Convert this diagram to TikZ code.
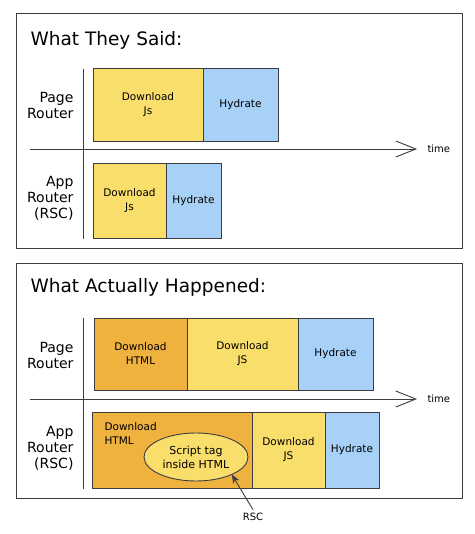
\documentclass[tikz,border=0pt]{standalone}
\usepackage{fontspec}
\setmainfont{DejaVu Sans}
\usetikzlibrary{positioning,shapes.geometric,arrows.meta}
\definecolor{myyellow}{RGB}{249,222,108}
\definecolor{myorange}{RGB}{239,178,62}
\definecolor{myblue}{RGB}{168,209,247}
\definecolor{myline}{RGB}{60,60,66}

\begin{document}
\begin{tikzpicture}[x=1pt,y=-1pt,node distance=0pt,
stepb/.style={
  draw=myline,
  line width=0.9pt,
  outer sep=0pt,
  inner sep=2pt,
  font=\fontsize{10.5}{14}\selectfont,
  align=center},
yellowb/.style={stepb,fill=myyellow},
orangeb/.style={stepb,fill=myorange},
blueb/.style={stepb,fill=myblue},
lane/.style={font=\fontsize{14}{16}\selectfont,align=right,anchor=east},
ttl/.style={font=\fontsize{18.5}{20}\selectfont,anchor=west},
axis/.style={draw=myline,line width=0.9pt},
timeax/.style={axis,-{Straight Barb[length=20pt,width=16pt]}},
small/.style={font=\fontsize{10}{12}\selectfont},
]
\useasboundingbox (0,0) rectangle (474,534);
\fill[white] (0,0) rectangle (474,534);
% What they said
\draw[axis] (16,13) rectangle (462,248);
\node[ttl] (said) at (27,40) {What They Said:};
\coordinate (v1a) at (83,69);
\coordinate (v1b) at (83,239);
\coordinate (t1a) at (30,149);
\coordinate (t1b) at (417,149);
\draw[axis] (v1a) -- (v1b);
\draw[timeax] (t1a) -- (t1b);
\node[small,right=7pt of t1b] (tm1) {time};
\node[lane] (pr1) at (77,105) {Page\\Router};
\node[lane] (ar1) at (77,198) {App\\Router\\(RSC)};
\node[yellowb,minimum width=110,minimum height=73,anchor=north west] (js1) at (93,68) {Download\\Js};
\node[blueb,minimum width=75,minimum height=73,right=of js1] (hy1) {Hydrate};
\node[yellowb,minimum width=73,minimum height=75,anchor=north west] (js2) at (93,163) {Download\\Js};
\node[blueb,minimum width=55,minimum height=75,right=of js2] (hy2) {Hydrate};
% What actually happened
\draw[axis] (16,263) rectangle (462,498);
\node[ttl] (happ) at (27,287) {What Actually Happened:};
\coordinate (v2a) at (83,318);
\coordinate (v2b) at (83,489);
\coordinate (t2a) at (30,399);
\coordinate (t2b) at (417,399);
\draw[axis] (v2a) -- (v2b);
\draw[timeax] (t2a) -- (t2b);
\node[small,right=7pt of t2b] (tm2) {time};
\node[lane] (pr2) at (77,355) {Page\\Router};
\node[lane] (ar2) at (77,448) {App\\Router\\(RSC)};
\node[orangeb,minimum width=93,minimum height=72,anchor=north west] (ht3) at (94,318) {Download\\HTML};
\node[yellowb,minimum width=111,minimum height=72,right=of ht3] (js3) {Download\\JS};
\node[blueb,minimum width=75,minimum height=72,right=of js3] (hy3) {Hydrate};
\node[orangeb,minimum width=160,minimum height=76,anchor=north west] (ht4) at (92,412) {};
\node[font=\fontsize{10.5}{14}\selectfont,align=left,anchor=north west] (ht4t) at (101,419) {Download\\HTML};
\node[yellowb,minimum width=73,minimum height=76,right=of ht4] (js4) {Download\\JS};
\node[blueb,minimum width=54,minimum height=76,right=of js4] (hy4) {Hydrate};
\node[yellowb,ellipse,minimum width=104,minimum height=48,font=\fontsize{11}{14}\selectfont] (scr) at (196,457) {Script tag\\inside HTML};
\node[small] (rsc) at (253,517) {RSC};
\draw[axis,-{Stealth[length=9pt,width=7pt]}] (rsc.north) -- (scr.-26);
\end{tikzpicture}
\end{document}
